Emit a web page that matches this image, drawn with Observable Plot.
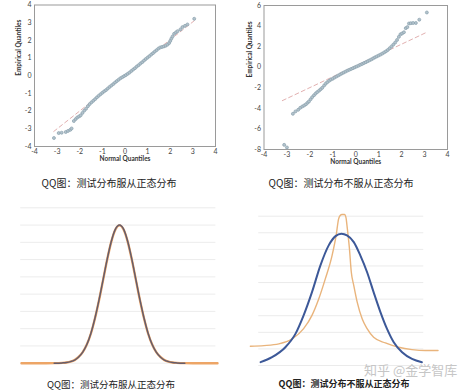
<!DOCTYPE html>
<html><head><meta charset="utf-8">
<script src="https://cdn.jsdelivr.net/npm/d3@7"></script>
<script src="https://cdn.jsdelivr.net/npm/@observablehq/plot@0.6"></script>
<style>
body{margin:0;background:#fff;}
#wrap{position:relative;width:474px;height:391px;overflow:hidden;background:#fff;}
.cap{position:absolute;font-family:"Noto Sans CJK SC";color:#222;white-space:nowrap;transform:translate(-50%,-50%);line-height:1;}
</style></head><body><div id="wrap"></div><script>
// ---- Data ----
const qqTicksX = [-4,-3,-2,-1,0,1,2,3,4];
const qqTicksYNormal = [-4,-3,-2,-1,0,1,2,3,4];
const qqTicksYSkew = [-8,-6,-4,-2,0,2,4,6];

const qqNormalX = [-3.14,-2.93,-2.80,-2.62,-2.52,-2.42,-2.36,-2.26,-2.18,-2.11,-2.03,-1.96,-1.88,
 -1.80,-1.72,-1.64,-1.56,-1.48,-1.40,-1.32,-1.24,-1.16,-1.08,-1.00,-0.92,-0.84,-0.76,-0.68,-0.60,-0.52,-0.44,-0.36,-0.28,-0.20,-0.12,-0.04,
 0.04,0.12,0.20,0.28,0.36,0.44,0.52,0.60,0.68,0.76,0.84,0.92,1.00,1.08,1.16,1.24,1.32,1.40,1.48,1.56,1.64,1.72,1.80,1.88,1.95,
 2.00,2.05,2.10,2.17,2.25,2.32,2.45,2.54,2.65,2.76,3.06];
const qqNormalY = [-3.52,-3.24,-3.22,-3.18,-3.12,-3.06,-2.98,-2.56,-2.45,-2.36,-2.30,-2.24,-2.10,
 -1.97,-1.86,-1.72,-1.60,-1.50,-1.41,-1.32,-1.22,-1.13,-1.04,-0.96,-0.88,-0.81,-0.72,-0.63,-0.55,-0.47,-0.38,-0.30,-0.22,-0.14,-0.08,-0.02,
 0.04,0.11,0.18,0.27,0.35,0.43,0.52,0.60,0.69,0.77,0.86,0.95,1.03,1.11,1.20,1.28,1.37,1.45,1.54,1.60,1.63,1.66,1.70,1.76,1.85,
 1.97,2.10,2.22,2.37,2.45,2.52,2.62,2.75,2.82,2.90,3.22];
const refNormalX = [-3.15, 3.1];
const refNormalY = [-3.15, 3.15];

const qqSkewX = [-3.12,-3.00,-2.74,-2.63,-2.51,-2.42,-2.33,-2.25,-2.17,-2.10,-2.04,-1.97,-1.90,-1.82,-1.75,-1.68,-1.60,-1.53,-1.46,-1.38,-1.31,-1.24,-1.16,-1.08,
 -1.00,-0.92,-0.84,-0.76,-0.68,-0.60,-0.52,-0.44,-0.36,-0.28,-0.20,-0.12,-0.04,0.04,0.12,0.20,0.28,0.36,0.44,0.52,0.60,0.68,0.76,0.84,0.92,
 1.00,1.08,1.16,1.24,1.32,1.40,1.48,1.56,1.64,1.72,1.80,1.88,1.95,2.02,2.10,2.18,2.25,2.32,2.40,2.50,2.62,2.77,3.10];
const qqSkewY = [-7.55,-7.80,-4.53,-4.30,-4.14,-3.95,-3.82,-3.72,-3.60,-3.45,-3.33,-3.12,-2.91,-2.72,-2.56,-2.42,-2.28,-2.14,-2.00,-1.78,-1.60,-1.45,-1.32,-1.20,
 -1.11,-1.00,-0.90,-0.80,-0.70,-0.60,-0.51,-0.42,-0.33,-0.25,-0.17,-0.09,-0.01,0.07,0.15,0.24,0.32,0.41,0.49,0.58,0.67,0.76,0.86,0.96,1.05,
 1.14,1.23,1.33,1.44,1.55,1.68,1.85,2.02,2.20,2.40,2.65,2.95,3.20,3.28,3.40,3.80,3.90,4.25,4.28,4.30,4.30,4.62,5.32];
const refSkewX = [-3.2, 3.05];
const refSkewY = [-3.25, 3.35];

const gridLevels = [0,0.05,0.10,0.15,0.20,0.25,0.30,0.35,0.40,0.45];

const bellX = [-6,-5,-4.5,-4,-3.5,-3.25,-3,-2.75,-2.5,-2.25,-2,-1.75,-1.5,-1.25,-1,-0.75,-0.5,-0.25,0,0.25,0.5,0.75,1,1.25,1.5,1.75,2,2.25,2.5,2.75,3,3.25,3.5,4,4.5,5,6];
const bellOrange = [0,0,0,0.0001,0.0009,0.002,0.0044,0.009,0.018,0.032,0.054,0.086,0.130,0.183,0.242,0.301,0.352,0.387,0.399,0.387,0.352,0.301,0.242,0.183,0.130,0.086,0.054,0.032,0.018,0.009,0.0044,0.002,0.0009,0.0001,0,0,0];
const bellDarkX = [-4,-3.5,-3.25,-3,-2.75,-2.5,-2.25,-2,-1.75,-1.5,-1.25,-1,-0.75,-0.5,-0.25,0,0.25,0.5,0.75,1,1.25,1.5,1.75,2,2.25,2.5,2.75,3,3.25,3.5,4];
const bellDark = [0.0001,0.0009,0.002,0.0045,0.009,0.018,0.032,0.054,0.087,0.131,0.184,0.243,0.302,0.353,0.388,0.400,0.388,0.353,0.302,0.243,0.184,0.131,0.087,0.054,0.032,0.018,0.009,0.0045,0.002,0.0009,0.0001];

const blueX = [-2.61,-2.24,-1.81,-1.48,-1.22,-0.95,-0.68,-0.41,-0.19,0,0.18,0.40,0.61,0.83,1.04,1.26,1.47,1.69,1.96,2.28,2.60];
const blueY = [0.010,0.025,0.055,0.096,0.151,0.221,0.301,0.362,0.390,0.397,0.392,0.372,0.332,0.281,0.221,0.161,0.111,0.070,0.040,0.020,0.010];
const orangeX = [-2.94,-2.50,-2.02,-1.59,-1.22,-0.95,-0.73,-0.52,-0.30,-0.17,-0.09,-0.04,0.02,0.10,0.15,0.18,0.26,0.32,0.40,0.51,0.67,0.83,1.04,1.42,1.85,2.28,2.71,3.12];
const orangeY = [0.058,0.060,0.065,0.080,0.111,0.151,0.201,0.261,0.332,0.392,0.442,0.452,0.455,0.455,0.445,0.422,0.352,0.281,0.241,0.191,0.141,0.111,0.085,0.068,0.055,0.048,0.045,0.045];

const captions = ["QQ图：测试分布服从正态分布","QQ图：测试分布不服从正态分布","QQ图：测试分布服从正态分布","QQ图：测试分布不服从正态分布"];
const watermark = "知乎 @金学智库";

// ---- Build ----
const wrap = document.getElementById("wrap");
function place(node, left, top){ node.style.position="absolute"; node.style.left=left+"px"; node.style.top=top+"px"; wrap.appendChild(node); }
const zip = (xs, ys) => xs.map((x,i)=>({x, y: ys[i]}));

function qq(xs, ys, rx, ry, yDomain, yTicks, m, ylabDx){
  return Plot.plot({
    width:237, height:170, marginLeft:m[0], marginRight:m[1], marginTop:m[2], marginBottom:m[3],
    style:{fontFamily:"Lato", fontSize:"7px", color:"#444", background:"transparent", overflow:"visible"},
    x:{domain:[-4,4], ticks:qqTicksX, tickSize:0, tickPadding:3, label:null, tickFormat:d=>String(d)},
    y:{domain:yDomain, ticks:yTicks, tickSize:0, tickPadding:3, label:null, tickFormat:d=>String(d)},
    marks:[
      Plot.frame({stroke:"#9a9a9a"}),
      Plot.line(zip(rx, ry), {x:"x", y:"y", stroke:"#e2b0b0", strokeDasharray:"4,3", strokeWidth:1}),
      Plot.dot(zip(xs, ys), {x:"x", y:"y", r:1.5, stroke:"#8aa0ad", fill:"#b3c3cc", strokeWidth:0.7}),
      Plot.text(["Normal Quantiles"], {frameAnchor:"bottom", dy:14, text:d=>d, fontWeight:"bold", fontSize:6.5, fill:"#333"}),
      Plot.text(["Empirical Quantiles"], {frameAnchor:"left", dx:ylabDx, rotate:-90, text:d=>d, fontWeight:"bold", fontSize:6.5, fill:"#333"})
    ]
  });
}

place(qq(qqNormalX, qqNormalY, refNormalX, refNormalY, [-4,4], qqTicksYNormal, [34,22,4.5,24], -16), 0, 0);
place(qq(qqSkewX, qqSkewY, refSkewX, refSkewY, [-8,6], qqTicksYSkew, [26.5,27,5,21], -14.5), 237, 0);

place(Plot.plot({
  width:237, height:177, marginLeft:21, marginRight:20, marginTop:12.3, marginBottom:9.3,
  style:{background:"transparent"},
  x:{domain:[-6,6], axis:null}, y:{domain:[0,0.45], axis:null},
  marks:[
    Plot.ruleY(gridLevels, {x1:-6.05, x2:5.9, stroke:"#ececec", strokeWidth:1}),
    Plot.line(zip(bellX, bellOrange), {x:"x", y:"y", stroke:"#eda566", strokeWidth:2.4, curve:"monotone-x"}),
    Plot.line(zip(bellDarkX, bellDark), {x:"x", y:"y", stroke:"#655d6c", strokeWidth:1.5, curve:"monotone-x"})
  ]
}), 0, 195);

place(Plot.plot({
  width:237, height:177, marginLeft:11, marginRight:34, marginTop:20.7, marginBottom:7,
  style:{background:"transparent"},
  x:{domain:[-3,3.2], axis:null}, y:{domain:[0,0.45], axis:null},
  marks:[
    Plot.ruleY(gridLevels, {x1:-2.67, x2:2.66, stroke:"#ebebeb", strokeWidth:1}),
    Plot.line(zip(orangeX, orangeY), {x:"x", y:"y", stroke:"#e9b47c", strokeWidth:1.4, curve:"monotone-x"}),
    Plot.line(zip(blueX, blueY), {x:"x", y:"y", stroke:"#3c5898", strokeWidth:2, curve:"monotone-x"})
  ]
}), 237, 195);

function cap(text, cx, cy, size, extra){
  const d = document.createElement("div"); d.className="cap"; d.textContent=text;
  d.style.left=cx+"px"; d.style.top=cy+"px"; d.style.fontSize=size+"px";
  if (extra) Object.assign(d.style, extra);
  wrap.appendChild(d);
}
cap(watermark, 410.7, 368.5, 13, {color:"#c6c6c6"});
cap(captions[0], 109, 183, 10);
cap(captions[1], 341, 183, 10);
cap(captions[2], 111, 385, 9.5);
cap(captions[3], 344, 382.5, 9, {fontWeight:"600"});
</script></body></html>
